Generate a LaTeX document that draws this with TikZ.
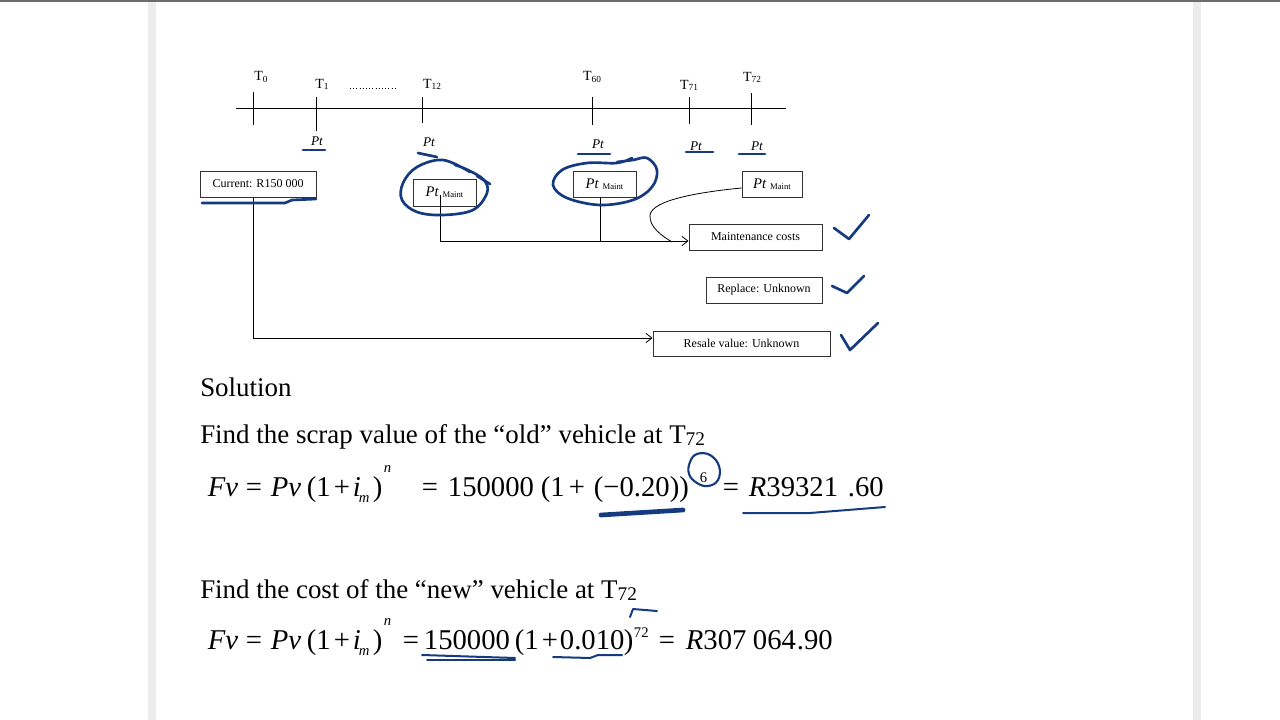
\documentclass[tikz,border=0pt]{standalone}
\usepackage{fontspec}
\setmainfont{Liberation Serif}
\usetikzlibrary{arrows.meta,calc}
\definecolor{ink}{RGB}{22,58,128}
\definecolor{boxline}{RGB}{50,50,50}
\definecolor{strip}{RGB}{236,236,236}
\newcommand{\ch}[2]{\makebox[0pt][l]{\hspace*{#1}#2}}
\newcommand{\chup}[3]{\makebox[0pt][l]{\hspace*{#1}\raisebox{#2}{\fontsize{11}{11}\selectfont #3}}}
\newcommand{\tsub}[1]{{\fontsize{7}{7}\selectfont\raisebox{-0.12em}{#1}}}
\newcommand{\ptm}{{\fontsize{11}{12}\selectfont\textit{Pt}}\hspace{0.3em}{\fontsize{6.5}{7}\selectfont\raisebox{-0.15em}{Maint}}}
\tikzset{
 box/.style={draw=boxline, line width=0.7pt, inner sep=0pt, font=\fontsize{9}{10}\selectfont},
 tlabel/.style={font=\fontsize{10.5}{11}\selectfont, inner sep=0pt},
 ptlabel/.style={font=\fontsize{10}{11}\selectfont\itshape, inner sep=0pt},
 axis/.style={line width=0.7pt, black},
 conn/.style={line width=0.6pt, black},
 arr/.style={conn, -{Straight Barb[length=4.5pt,width=7pt]}},
 pen/.style={draw=ink, line width=2pt, line cap=round, line join=round},
 big/.style={font=\fontsize{20.2}{22}\selectfont, inner sep=0pt, anchor=base west},
 eqn/.style={font=\fontsize{21.5}{24}\selectfont, inner sep=0pt, anchor=base west},
}
\begin{document}
\begin{tikzpicture}[x=0.75pt,y=-0.75pt]
\useasboundingbox (0,0) rectangle (1280,720);
\fill[white] (0,0) rectangle (1280,720);
\fill[strip] (148,2) rectangle (156,720);
\fill[strip] (1193,2) rectangle (1201,720);
\fill[gray!85!black] (0,0) rectangle (1280,2);

% timeline
\draw[axis] (236,108) -- (786,108);
\draw[axis] (253,92) -- (253,125);
\draw[axis] (316,97) -- (316,131);
\draw[axis] (422,97) -- (422,123);
\draw[axis] (592,97) -- (592,125);
\draw[axis] (689,97) -- (689,124);
\draw[axis] (751,93) -- (751,125);
\draw[dotted, line width=0.4pt] (350,88) -- (395,88);

\node[tlabel] (t0) at (261,77) {T\tsub{0}};
\node[tlabel] (t1) at (322,84) {T\tsub{1}};
\node[tlabel] (t12) at (432,84) {T\tsub{12}};
\node[tlabel] (t60) at (592,77) {T\tsub{60}};
\node[tlabel] (t71) at (689,85) {T\tsub{71}};
\node[tlabel] (t72) at (752,77) {T\tsub{72}};

\node[ptlabel] (p1) at (317,141) {Pt};
\node[ptlabel] (p12) at (429,142) {Pt};
\node[ptlabel] (p60) at (598,144) {Pt};
\node[ptlabel] (p71) at (696,146) {Pt};
\node[ptlabel] (p72) at (757,146) {Pt};

% boxes
\node[box, minimum width=87pt, minimum height=19.5pt] (cur) at (258,184) {Current: R150 000};
\node[box, minimum width=47.25pt, minimum height=20.25pt] (b1) at (444.5,192.5) {\ptm};
\node[box, minimum width=47.25pt, minimum height=19.5pt] (b2) at (604.5,184) {\ptm};
\node[box, minimum width=45pt, minimum height=19.5pt] (b3) at (772,184) {\ptm};
\node[box, minimum width=99.75pt, minimum height=19.5pt] (mc) at (755.5,237) {Maintenance costs};
\node[box, minimum width=87pt, minimum height=19.5pt] (rep) at (764,290) {Replace: Unknown};
\node[box, minimum width=132.75pt, minimum height=18.75pt] (res) at (741.5,343.5) {Resale value: Unknown};

% connectors
\coordinate (c1) at (253,338);
\draw[arr] (cur.south -| c1) -- (c1) -- (c1 -| res.west);
\coordinate (m1) at (440,241);
\coordinate (m2) at (600,241);
\draw[arr] ($(b1.center -| m1)+(0,3)$) -- (m1) -- (m1 -| mc.west);
\draw[conn] (b2.south -| m2) -- (m2);
\coordinate (ce) at (672,242);
\draw[conn] ($(b3.west)+(0,4)$) .. controls (700,192) and (652,200) .. (650,215) .. controls (649,227) and (662,236) .. (ce);

% lower text
\node[big] (sol) at (200,396) {Solution};
\node[big] (f1) at (200,443) {Find the scrap value of the “old” vehicle at T{\fontsize{14.5}{14}\selectfont\raisebox{-0.12em}{72}}};
\node[eqn] (e1) at (207,496) {%
\ch{0pt}{\textit{Fv}}%
\ch{28.5pt}{=}%
\ch{47.25pt}{\textit{Pv}}%
\ch{74.25pt}{(1}%
\ch{94.5pt}{+}%
\ch{108.75pt}{\textit{i}}%
\chup{113.25pt}{-4.5pt}{\textit{m}}%
\ch{123.75pt}{)}%
\chup{132pt}{18pt}{\textit{n}}%
\ch{160.5pt}{=}%
\ch{180pt}{150000}%
\ch{249.75pt}{(1}%
\ch{270.75pt}{+}%
\ch{289.5pt}{(−0.20))}%
\chup{369pt}{10pt}{6}%
\ch{386.25pt}{=}%
\ch{405.75pt}{\textit{R}39321}%
\ch{480pt}{.60}};
\node[big] (f2) at (200,598) {Find the cost of the “new” vehicle at T{\fontsize{14.5}{14}\selectfont\raisebox{-0.12em}{72}}};
\node[eqn] (e2) at (207,649) {%
\ch{0pt}{\textit{Fv}}%
\ch{28.5pt}{=}%
\ch{47.25pt}{\textit{Pv}}%
\ch{74.25pt}{(1}%
\ch{94.5pt}{+}%
\ch{108.75pt}{\textit{i}}%
\chup{113.25pt}{-4.5pt}{\textit{m}}%
\ch{123.75pt}{)}%
\chup{132pt}{18pt}{\textit{n}}%
\ch{146.25pt}{=}%
\ch{162pt}{150000}%
\ch{230.25pt}{(1}%
\ch{250.5pt}{+}%
\ch{264pt}{0.010}%
\ch{312pt}{)}%
\chup{319.5pt}{9pt}{72}%
\ch{338.25pt}{=}%
\ch{358.5pt}{\textit{R}307}%
\ch{408.75pt}{064}%
\ch{441.75pt}{.90}};

% handwritten annotations
\draw[pen] (303,150) -- (325,150);
\draw[pen] (418,153) -- (437,157);
\draw[pen] (578,154) -- (610,154);
\draw[pen] (686,152) -- (713,152);
\draw[pen] (739,154) -- (765,154);
\draw[pen] (202,203) -- (285,203) -- (292,200) -- (316,199);
\draw[pen] plot[smooth, tension=0.6] coordinates {(470,172) (443,160) (417,167) (403,183) (402,200) (417,212) (443,215) (473,210) (487,193) (484,180) (468,170) (455,165)};
\draw[pen] (477,176) -- (490,184);
\draw[pen] plot[smooth, tension=0.6] coordinates {(617,162) (633,160) (647,158) (657,170) (652,187) (633,200) (600,205) (567,198) (553,185) (562,170) (587,163) (617,163) (632,158)};
\draw[pen] (834,228) -- (849,239) -- (869,215);
\draw[pen] (832,286) -- (847,293) -- (864,276);
\draw[pen] (841,335) -- (850,350) -- (878,323);
\draw[pen, line width=1.6pt] plot[smooth cycle, tension=0.7] coordinates {(690,462) (697,454) (710,455) (719,466) (718,480) (708,486) (697,483) (689,474)};
\draw[pen, line width=3.5pt] (601,515) -- (683,510);
\draw[pen, line width=1.5pt] (743,513) -- (810,513) -- (885,507);
\draw[pen, line width=1.5pt] (422,655) -- (515,658);
\draw[pen, line width=1.5pt] (427,660) -- (515,660);
\draw[pen, line width=1.5pt] (553,657) -- (590,658) -- (598,655) -- (622,655);
\draw[pen, line width=1.5pt] (630,617) -- (633,609) -- (657,611);
\end{tikzpicture}
\end{document}
